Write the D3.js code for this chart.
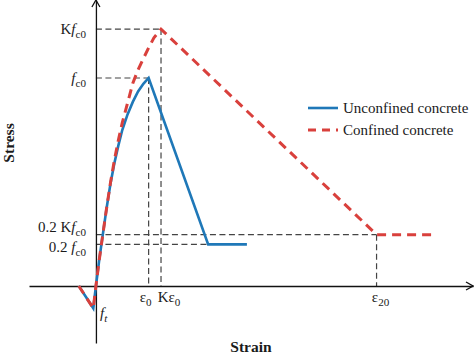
<!DOCTYPE html>
<html><head><meta charset="utf-8">
<script src="https://cdn.jsdelivr.net/npm/d3@7"></script>
<style>html,body{margin:0;padding:0;background:#fff;}svg{display:block;}</style>
</head><body>
<script>
// ---- data ----
const K = 1.235, fc0 = 1.0, eps0 = 0.002, eps20 = 0.01065;
const unconfinedStrain = [-0.00065, -0.0001, 0, 0.000125, 0.00025, 0.0004, 0.00055, 0.0007, 0.00085, 0.001, 0.0012, 0.0014, 0.0016, 0.0018, 0.002, 0.00426, 0.00573];
const unconfinedStress = [0, -0.107, 0, 0.125, 0.2375, 0.37, 0.49, 0.59, 0.675, 0.75, 0.825, 0.885, 0.935, 0.972, 1.0, 0.2, 0.2];
const confinedStrain = [-0.00065, -0.0001, 0, 0.000125, 0.00025, 0.0004, 0.00055, 0.0007, 0.00085, 0.001, 0.0012, 0.0014, 0.0016, 0.0018, 0.002, 0.0022, 0.00247, 0.01065, 0.01294];
const confinedStress = [0, -0.107, 0, 0.125, 0.2375, 0.37, 0.495, 0.605, 0.7, 0.785, 0.88, 0.975, 1.04, 1.093, 1.145, 1.193, 1.235, 0.247, 0.247];
const seriesNames = ["Unconfined concrete", "Confined concrete"];
const stressTickValues = [K * fc0, fc0, 0.2 * K * fc0, 0.2 * fc0];
const stressTickLabels = [
  [["K",""],["f","i"],["c0","sub"]],
  [["f","i"],["c0","sub"]],
  [["0.2 K",""],["f","i"],["c0","sub"]],
  [["0.2 ",""],["f","i"],["c0","sub"]]
];
const strainTickValues = [eps0, K * eps0, eps20];
const strainTickLabels = [
  [["ε",""],["0","sub"]],
  [["Kε",""],["0","sub"]],
  [["ε",""],["20","sub"]]
];
const ftLabel = [["f","i"],["t","isub"]];
const axisTitles = ["Strain", "Stress"];

// ---- setup ----
const W = 474, H = 356;
const svg = d3.select("body").append("svg").attr("width", W).attr("height", H)
  .style("font-family", "'Liberation Serif','Times New Roman',serif");
const x = d3.scaleLinear().domain([-0.00254, 0.01431]).range([29, 473]);
const y = d3.scaleLinear().domain([-0.274, 1.375]).range([343, 0]);
const blue = "#1f78b8", red = "#d9403c", guide = "#444", ink = "#1a1a1a";

function richText(sel, parts, size) {
  parts.forEach(([t, s]) => {
    const ts = sel.append("tspan").text(t);
    if (s === "i") ts.style("font-style", "italic");
    if (s === "sub" || s === "isub") {
      ts.attr("font-size", size * 0.74).attr("dy", 4);
      if (s === "isub") ts.style("font-style", "italic");
    }
  });
}

// ---- guide lines ----
const g = svg.append("g").attr("stroke", guide).attr("stroke-width", 1.2).attr("stroke-dasharray", "6,3.5").attr("fill", "none");
const guides = [
  [0, K * fc0, K * eps0, K * fc0], [K * eps0, K * fc0, K * eps0, 0],
  [0, fc0, eps0, fc0], [eps0, fc0, eps0, 0],
  [0, 0.2 * K * fc0, eps20, 0.2 * K * fc0], [eps20, 0.2 * K * fc0, eps20, 0],
  [0, 0.2 * fc0, unconfinedStrain[15], 0.2 * fc0]
];
guides.forEach(d => g.append("line").attr("x1", x(d[0])).attr("y1", y(d[1])).attr("x2", x(d[2])).attr("y2", y(d[3])));

// ---- axes ----
svg.append("g").attr("transform", `translate(0,${y(0)})`)
  .call(d3.axisBottom(x).tickValues([]).tickSizeOuter(0));
svg.append("g").attr("transform", `translate(${x(0)},0)`)
  .call(d3.axisLeft(y).tickValues([]).tickSizeOuter(0));
svg.selectAll(".domain").attr("stroke", "#111").attr("stroke-width", 1.3);
const x0 = x(0), y0 = y(0), xr = x.range()[1], yt = y.range()[1];
svg.append("path").attr("d", `M${xr - 7},${y0 - 4}L${xr},${y0}L${xr - 7},${y0 + 4}`)
  .attr("fill", "none").attr("stroke", "#111").attr("stroke-width", 1.3);
svg.append("path").attr("d", `M${x0 - 4},${yt + 7}L${x0},${yt}L${x0 + 4},${yt + 7}`)
  .attr("fill", "none").attr("stroke", "#111").attr("stroke-width", 1.3);

// ---- series ----
const line = d3.line().x(d => x(d[0])).y(d => y(d[1]));
const unconf = unconfinedStrain.map((s, i) => [s, unconfinedStress[i]]);
const conf = confinedStrain.map((s, i) => [s, confinedStress[i]]);
svg.append("path").datum(unconf).attr("d", line).attr("fill", "none")
  .attr("stroke", blue).attr("stroke-width", 2.6).attr("stroke-linejoin", "miter");
svg.append("path").datum(conf).attr("d", line).attr("fill", "none")
  .attr("stroke", red).attr("stroke-width", 3).attr("stroke-dasharray", "9,6");

// ---- stress tick labels ----
const stressDy = [4.5, 5, -3, 8];
stressTickValues.forEach((v, i) => {
  const t = svg.append("text").attr("x", 86).attr("y", y(v) + stressDy[i])
    .attr("text-anchor", "end").attr("font-size", 15).attr("fill", ink);
  richText(t, stressTickLabels[i], 15);
});
// ---- strain tick labels ----
const strainDx = [-3, 8, 4];
strainTickValues.forEach((v, i) => {
  const t = svg.append("text").attr("x", x(v) + strainDx[i]).attr("y", 302)
    .attr("text-anchor", "middle").attr("font-size", 15).attr("fill", ink);
  richText(t, strainTickLabels[i], 15);
});
const ft = svg.append("text").attr("x", 100).attr("y", 318).attr("font-size", 15).attr("fill", ink);
richText(ft, ftLabel, 15);

// ---- axis titles ----
svg.append("text").attr("x", 251).attr("y", 352).attr("text-anchor", "middle")
  .attr("font-size", 15.5).attr("font-weight", "bold").attr("fill", ink).text(axisTitles[0]);
svg.append("text").attr("transform", "translate(14,143) rotate(-90)").attr("text-anchor", "middle")
  .attr("font-size", 15.5).attr("font-weight", "bold").attr("fill", ink).text(axisTitles[1]);

// ---- legend ----
const lg = svg.append("g");
[[blue, null, 2.6], [red, "8,6", 3]].forEach((st, i) => {
  const ly = 108 + i * 22;
  lg.append("line").attr("x1", 308).attr("x2", 338).attr("y1", ly).attr("y2", ly)
    .attr("stroke", st[0]).attr("stroke-width", st[2]).attr("stroke-dasharray", st[1]);
  lg.append("text").attr("x", 343).attr("y", ly + 5).attr("font-size", 15).attr("fill", ink).text(seriesNames[i]);
});
</script>
</body></html>
